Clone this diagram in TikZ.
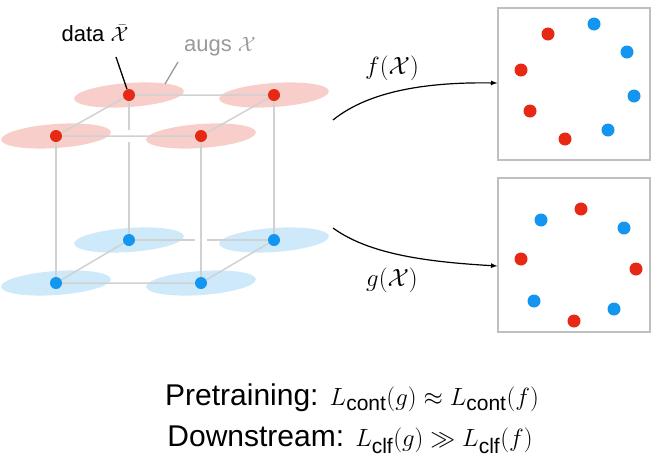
\documentclass[tikz,border=0pt]{standalone}
\usepackage{fontspec}
\setmainfont{Liberation Sans}
\usepackage{amsmath,amssymb}
\definecolor{rd}{RGB}{230,40,20}
\definecolor{bl}{RGB}{20,150,240}
\definecolor{rdl}{RGB}{245,190,185}
\definecolor{bll}{RGB}{190,225,248}
\begin{document}
\begin{tikzpicture}[x=1pt,y=-1pt,
  edge/.style={draw=black!18,line width=1.5pt},
  rdot/.style={circle,fill=rd,inner sep=0pt,minimum size=12pt},
  bdot/.style={circle,fill=bl,inner sep=0pt,minimum size=12pt},
  rell/.style={fill=rdl,fill opacity=0.75},
  bell/.style={fill=bll,fill opacity=0.75},
  frame/.style={draw=black!25,line width=1.2pt},
  arr/.style={-latex,line width=1.2pt}]
\useasboundingbox (0,0) rectangle (662,464);
\foreach \x/\y in {129/95,274/95,56/136,201/136}
  \fill[rell,shift={(\x,\y)},rotate=4] (0,0) ellipse[x radius=55,y radius=12];
\foreach \x/\y in {129/240,274/240,56/283,201/283}
  \fill[bell,shift={(\x,\y)},rotate=4] (0,0) ellipse[x radius=55,y radius=12];
\coordinate (a1) at (129,95); \coordinate (a2) at (274,95);
\coordinate (a3) at (56,136); \coordinate (a4) at (201,136);
\coordinate (b1) at (129,240); \coordinate (b2) at (274,240);
\coordinate (b3) at (56,283); \coordinate (b4) at (201,283);
\draw[edge] (a1)--(a2) (a1)--(a3) (a2)--(a4) (a3)--(a4);
\draw[edge] (a1)--(129,130) (129,142)--(b1);
\draw[edge] (a2)--(b2) (a3)--(b3) (a4)--(b4);
\draw[edge] (b1)--(195,240) (207,240)--(b2);
\draw[edge] (b1)--(b3) (b2)--(b4) (b3)--(b4);
\foreach \p/\n in {a1/r1,a2/r2,a3/r3,a4/r4} \node[rdot] (\n) at (\p) {};
\foreach \p/\n in {b1/c1,b2/c2,b3/c3,b4/c4} \node[bdot] (\n) at (\p) {};
\node[font=\fontsize{22}{24}\selectfont] (data) at (95,33) {data $\bar{\mathcal{X}}$};
\node[font=\fontsize{22}{24}\selectfont,text=black!40] (augs) at (220,47) {augs $\mathcal{X}$};
\draw[line width=1.3pt] (116,57) -- (r1);
\draw[line width=1.3pt,black!40] (178,62) -- (165,84);
% boxes
\node[frame,minimum width=152pt,minimum height=152pt] (box1) at (574,84) {};
\node[frame,minimum width=152pt,minimum height=154pt] (box2) at (574,255) {};
\foreach \x/\y in {548/34,521/70,530/111,565/139,581/209,521/259,636/269,574/321} \fill[rd] (\x,\y) circle (6.5);
\foreach \x/\y in {594/24,627/52,634/96,608/130,541/220,624/228,534/301,614/309} \fill[bl] (\x,\y) circle (6.5);
\coordinate (s1) at (333,120); \coordinate (s2) at (333,228);
\draw[arr] (s1) .. controls (370,90) and (430,82) .. (box1.west|-0,83);
\draw[arr] (s2) .. controls (370,255) and (430,262) .. (box2.west|-0,266);
\node[font=\fontsize{24}{26}\selectfont] (fl) at (392,68) {$f(\mathcal{X})$};
\node[font=\fontsize{24}{26}\selectfont] (gl) at (392,280) {$g(\mathcal{X})$};
\node[font=\fontsize{30}{34}\selectfont] (pt) at (352,398) {Pretraining: $L_{\text{cont}}(g)\approx L_{\text{cont}}(f)$};
\node[font=\fontsize{30}{34}\selectfont] (ds) at (350,440) {Downstream: $L_{\text{clf}}(g)\gg L_{\text{clf}}(f)$};
\end{tikzpicture}
\end{document}
